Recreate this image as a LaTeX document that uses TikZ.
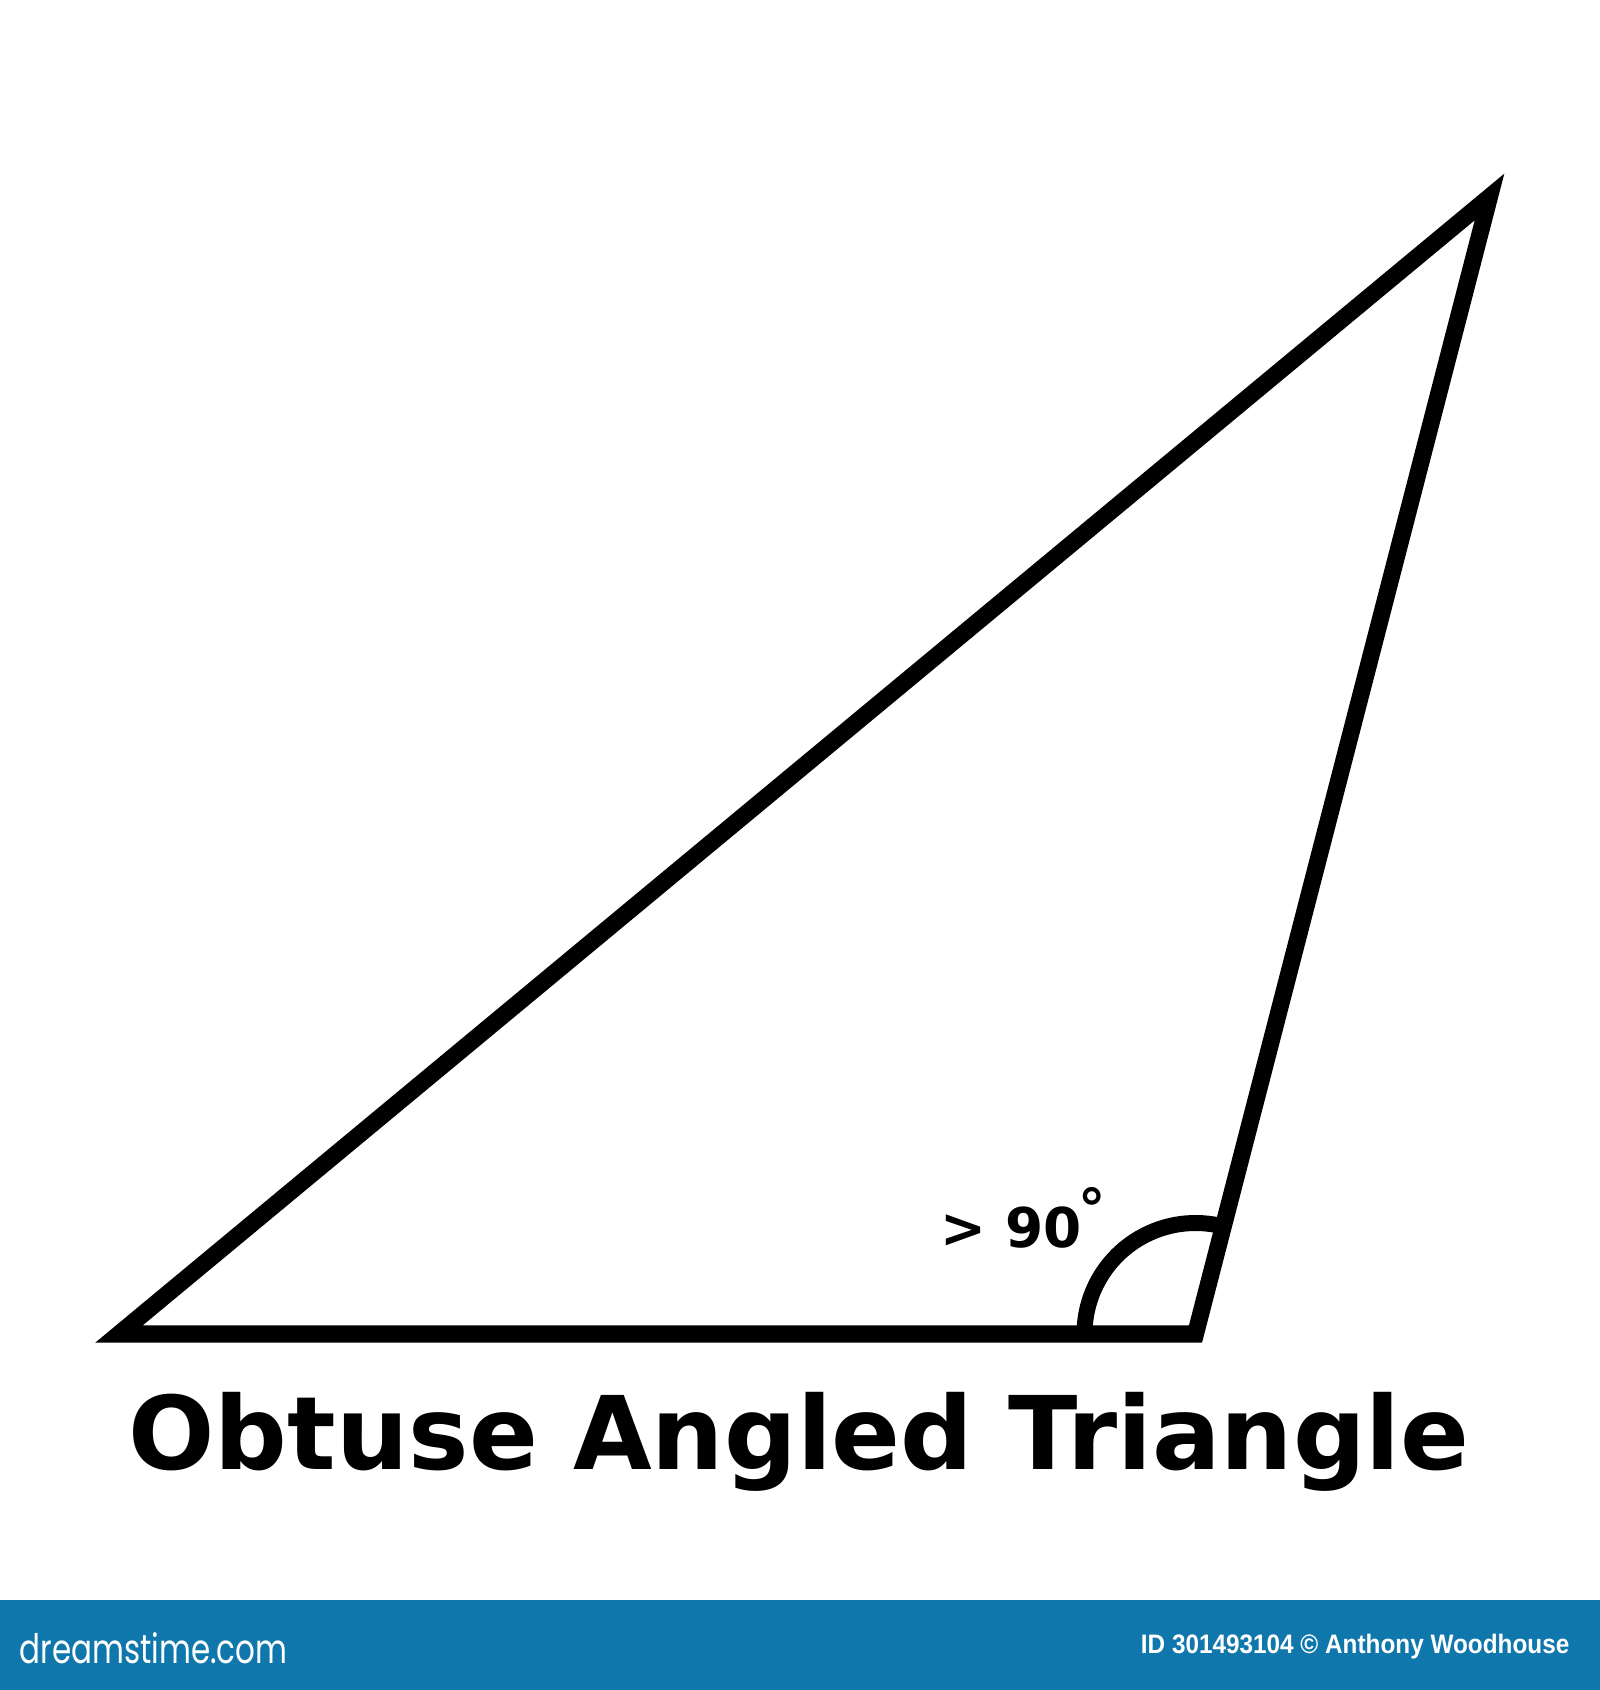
\documentclass[tikz,border=0pt]{standalone}
\usepackage{fontspec}
\usetikzlibrary{calc}
\setmainfont{DejaVu Sans}
\newfontfamily\bannerfont{Liberation Sans}
\newfontfamily\logofont{Poppins}
\definecolor{bannerblue}{RGB}{16,119,173}
\begin{document}
\begin{tikzpicture}[x=0.01cm,y=0.01cm,
  edge/.style={line width=0.17cm, line join=miter, miter limit=10},
  anglearc/.style={line width=0.16cm},
  title/.style={font=\fontsize{28.9pt}{30pt}\selectfont\bfseries, inner sep=0pt},
  anglelabel/.style={font=\fontsize{15.6pt}{17pt}\selectfont\bfseries, inner sep=0pt},
  credit/.style={font=\bannerfont\fontsize{7.6pt}{9pt}\selectfont\bfseries, text=white, inner sep=0pt},
  logo/.style={font=\logofont\fontsize{11pt}{13pt}\selectfont, text=white, inner sep=0pt}]
\useasboundingbox (0,0) rectangle (1600,1690);
\fill[white] (0,0) rectangle (1600,1690);
% banner
\fill[bannerblue] (0,0) rectangle (1600,90);
% triangle vertices
\coordinate (A) at (119,356);
\coordinate (B) at (1195.5,356);
\coordinate (C) at (1489.5,1493);
\draw[edge] (A) -- (B) -- (C) -- cycle;
% angle arc
\draw[anglearc] ($(B)+(-111,0)$) arc[start angle=180, end angle=75.5, radius=111];
% labels
\node[anglelabel, anchor=base west] (lbl) at (940,442) {> 90\kern-0.04cm\raisebox{0.19cm}{°}};
\node[title, anchor=base] (ttl) at (799,220) {Obtuse Angled Triangle};
\node[logo, anchor=base west] (logo) at (19,27) {\scalebox{0.8}[1.05]{dreamstime.com}};
\node[credit, anchor=base east] (cred) at (1570,37) {\scalebox{0.91}[1]{ID 301493104 © Anthony Woodhouse}};
\end{tikzpicture}
\end{document}
